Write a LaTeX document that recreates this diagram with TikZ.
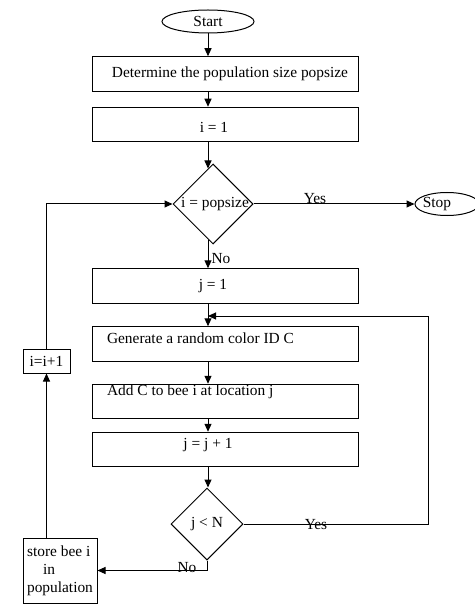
\documentclass[tikz,border=0pt]{standalone}
\usepackage{fontspec}
\setmainfont{Liberation Serif}
\usetikzlibrary{arrows.meta,positioning,shapes.geometric}

\begin{document}
\begin{tikzpicture}[
    x=1pt, y=-1pt,
    every node/.style={font=\fontsize{15.4}{18}\selectfont},
    box/.style={draw, line width=1pt, minimum width=266pt, minimum height=34.5pt, inner sep=0pt},
    sbox/.style={draw, line width=1pt, inner sep=0pt},
    term/.style={draw, ellipse, line width=1pt, minimum width=92pt, minimum height=23pt, inner sep=0pt},
    test/.style={draw, diamond, line width=1pt, inner sep=0pt},
    arr/.style={-{Triangle[length=8pt,width=7pt]}, line width=1pt}
]
\useasboundingbox (0,0) rectangle (474,612);

\node[term] (start) at (208,21.5) {Start};
\node[box, label={[xshift=5pt]center:Determine the population size popsize}] (size) at (225,74) {};
\node[box, label={[xshift=-11pt,yshift=-2.5pt]center:i = 1}] (init) at (225,124.5) {};
\node[test, minimum width=80pt, minimum height=80pt, label={[xshift=2pt]center:i = popsize}] (full) at (213,204) {};
\node[term, minimum width=64pt, label={[xshift=-10pt]center:Stop}] (stop) at (447,204) {};
\node[box, label={[xshift=-12pt]center:j = 1}] (jinit) at (225,286) {};
\node[box, label={[anchor=west,xshift=12pt,yshift=6pt]west:Generate a random color ID C}] (gen) at (225,344) {};
\node[box, label={[anchor=west,xshift=12pt,yshift=9.5pt]west:Add C to bee i at location j}] (add) at (225,401.5) {};
\node[box, label={[xshift=-17pt,yshift=4.5pt]center:j = j + 1}] (incj) at (225,449.5) {};
\node[test, minimum width=72pt, minimum height=72pt, label={center:j < N}] (more) at (207,524) {};
\node[sbox, minimum width=74pt, minimum height=65pt, align=left] (store) at (60,570.5) {store bee i\\\hspace*{16pt}in\\population};
\node[sbox, minimum width=47pt, minimum height=24pt] (inc) at (46.5,361) {i=i+1};
\coordinate (loop) at (428,316);

% labels on the branches
\node (yes1) at (315,199) {Yes};
\node (no1) at (221,259) {No};
\node (yes2) at (316,525) {Yes};
\node (no2) at (187,568) {No};

\draw[arr] (start.south) -- (start.south |- size.north);
\draw[arr] (start.south |- size.south) -- (start.south |- init.north);
\draw[arr, shorten >=-5pt] (start.south |- init.south) -- (start.south |- full.north);
\draw[arr] (full.east) -- (stop.west);
\draw[arr, shorten <=-5pt] (start.south |- full.south) -- (start.south |- jinit.north);
\draw[arr] (start.south |- jinit.south) -- (start.south |- gen.north);
\draw[arr] (start.south |- gen.south) -- (start.south |- add.north);
\draw[arr] (start.south |- add.south) -- (start.south |- incj.north);
\draw[arr] (start.south |- incj.south) -- (start.south |- more.north);
\draw[arr] (more.east) -| (loop) -- (loop -| start.south);
\draw[arr] (more.south) |- (store.east);
\draw[arr] (store.north -| inc) -- (inc.south);
\draw[arr] (inc.north) |- (full.west);
\end{tikzpicture}
\end{document}
